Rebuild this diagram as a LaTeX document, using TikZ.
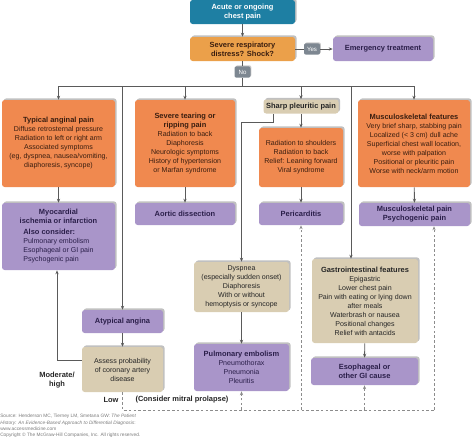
\documentclass[tikz,border=0pt]{standalone}
\usepackage{fontspec}
\setmainfont{Liberation Sans}
\usepackage{xcolor}
\usetikzlibrary{arrows.meta,shadows}

\definecolor{tealfill}{HTML}{1E7FA3}
\definecolor{amberfill}{HTML}{EBA04A}
\definecolor{orfill}{HTML}{F0894F}
\definecolor{pufill}{HTML}{A995C9}
\definecolor{tnfill}{HTML}{D9CDB2}
\definecolor{tagfill}{HTML}{7D8791}
\definecolor{lncol}{HTML}{5A5A5A}
\definecolor{dshcol}{HTML}{8C8C8C}
\definecolor{putext}{HTML}{2B1F4A}
\definecolor{ortext}{HTML}{3A1E10}
\definecolor{srccol}{HTML}{7A7A7A}

\newcommand{\rg}{\fontsize{5.3}{6.75}\selectfont}
\newcommand{\hd}{\fontsize{5.6}{6.75}\selectfont\bfseries}
\newcommand{\tg}{\fontsize{4.6}{5}\selectfont}
\newcommand{\srcfont}{\fontsize{3.6}{4.7}\selectfont}

\tikzset{
  box/.style={rounded corners=2pt,inner sep=0pt,align=center,font=\rg,
    drop shadow={shadow xshift=1.2pt,shadow yshift=1.2pt,fill=black!55,opacity=0.45}},
  tlbox/.style={box,fill=tealfill,text=white},
  ambox/.style={box,fill=amberfill,text=ortext},
  orbox/.style={box,fill=orfill,text=ortext},
  pubox/.style={box,fill=pufill,text=putext},
  tnbox/.style={box,fill=tnfill,text=black!85},
  tagbox/.style={rounded corners=1.5pt,fill=tagfill,text=white,font=\tg,inner sep=0pt,
    minimum width=12pt,minimum height=8.5pt,
    drop shadow={shadow xshift=0.7pt,shadow yshift=0.7pt,fill=black!50,opacity=0.4}},
  lbl/.style={font=\hd,text=black!85,inner sep=0pt,align=center},
  ln/.style={draw=lncol,line width=0.6pt},
  arr/.style={ln,-{Stealth[length=3pt,width=2.4pt]}},
  dsh/.style={draw=dshcol,line width=0.6pt,dash pattern=on 2pt off 1.6pt}
}

\begin{document}
\begin{tikzpicture}[x=0.75pt,y=0.75pt,yscale=-1,xscale=1]

\useasboundingbox (0,0) rectangle (474,440);

\node[tlbox,minimum width=78.75pt,minimum height=18pt] (top) at (242.5,12) {{\hd Acute or ongoing}\\{\hd chest pain}};

\node[ambox,minimum width=78.75pt,minimum height=18pt] (shock) at (242.5,49) {{\hd Severe respiratory}\\{\hd distress? Shock?}};

\node[pubox,minimum width=75pt,minimum height=18pt] (emerg) at (383,49) {{\hd Emergency treatment}};

\node[tagbox] (yes) at (312,49) {Yes};

\node[tagbox] (no) at (242.5,72) {No};

\node[orbox,minimum width=84.75pt,minimum height=65.25pt] (typ) at (58.5,143.5) {{\hd Typical anginal pain}\\Diffuse retrosternal pressure\\Radiation to left or right arm\\Associated symptoms\\(eg, dyspnea, nausea/vomiting,\\diaphoresis, syncope)};

\node[orbox,minimum width=75pt,minimum height=65.25pt] (tear) at (185,143.5) {{\hd Severe tearing or}\\{\hd ripping pain}\\Radiation to back\\Diaphoresis\\Neurologic symptoms\\History of hypertension\\or Marfan syndrome};

\node[tnbox,minimum width=56.25pt,minimum height=10.5pt] (pleu) at (301,106.5) {{\hd Sharp pleuritic pain}};

\node[orbox,minimum width=63pt,minimum height=44.25pt] (rad) at (301,157.5) {Radiation to shoulders\\Radiation to back\\Relief: Leaning forward\\Viral syndrome};

\node[orbox,minimum width=84pt,minimum height=65.25pt] (mskf) at (414,143.5) {{\hd Musculoskeletal features}\\Very brief sharp, stabbing pain\\Localized (< 3 cm) dull ache\\Superficial chest wall location,\\worse with palpation\\Positional or pleuritic pain\\Worse with neck/arm motion};

\node[pubox,minimum width=84.75pt,minimum height=50.25pt] (myo) at (58.5,236.5) {{\hd Myocardial}\\{\hd ischemia or infarction}\\[2pt]\begin{tabular}{@{}l@{}}{\hd Also consider:}\\Pulmonary embolism\\Esophageal or GI pain\\Psychogenic pain\end{tabular}};

\node[pubox,minimum width=75pt,minimum height=16.5pt] (aort) at (185,214) {{\hd Aortic dissection}};

\node[pubox,minimum width=63pt,minimum height=16.5pt] (peri) at (301,214) {{\hd Pericarditis}};

\node[pubox,minimum width=83.25pt,minimum height=17.25pt] (mskp) at (414.5,214.5) {{\hd Musculoskeletal pain}\\{\hd Psychogenic pain}};

\node[tnbox,minimum width=71.25pt,minimum height=37.5pt] (dysp) at (241.5,287) {Dyspnea\\(especially sudden onset)\\Diaphoresis\\With or without\\hemoptysis or syncope};

\node[pubox,minimum width=71.25pt,minimum height=35.25pt] (pe) at (241.5,367.5) {{\hd Pulmonary embolism}\\Pneumothorax\\Pneumonia\\Pleuritis};

\node[tnbox,minimum width=79.5pt,minimum height=63pt] (gi) at (365,301) {{\hd Gastrointestinal features}\\Epigastric\\Lower chest pain\\Pain with eating or lying down\\after meals\\Waterbrash or nausea\\Positional changes\\Relief with antacids};

\node[pubox,minimum width=80.25pt,minimum height=20.25pt] (eso) at (364.5,371.5) {{\hd Esophageal or}\\{\hd other GI cause}};

\node[pubox,minimum width=60.75pt,minimum height=17.25pt] (atyp) at (122.5,321.5) {{\hd Atypical angina}};

\node[tnbox,minimum width=60.75pt,minimum height=33.75pt] (assess) at (122.5,369.5) {Assess probability\\of coronary artery\\disease};

\node[lbl] (modhigh) at (57,380) {Moderate/\\high};

\node[lbl] (lowlbl) at (111,400) {Low};

\node[lbl] (mitral) at (182,400) {(Consider mitral prolapse)};

\node[anchor=north west,inner sep=0pt,align=left,font=\srcfont,text=srccol] (source) at (0,414) {Source: Henderson MC, Tierney LM, Smetana GW: \textit{The Patient}\\\textit{History: An Evidence-Based Approach to Differential Diagnosis}:\\www.accessmedicine.com\\Copyright \textcopyright{} The McGraw-Hill Companies, Inc. All rights reserved.};

\coordinate (bus) at (242.5,86);
\coordinate (gibus) at (351,86);
\coordinate (pbend) at (273,122);
\coordinate (mh) at (57,360);
\coordinate (lowc) at (122.5,410);
\coordinate (mskc) at (434,410);

\draw[arr] (top) -- (shock);
\draw[ln] (shock) -- (yes);
\draw[arr] (yes) -- (emerg);
\draw[ln] (shock) -- (no);
\draw[ln] (no) -- (bus);
\draw[ln] (typ.north |- bus) -- (mskf.north |- bus);

\draw[arr] (typ.north |- bus) -- (typ);
\draw[arr] (atyp.north |- bus) -- (atyp);
\draw[arr] (tear.north |- bus) -- (tear);
\draw[arr] (pleu.north |- bus) -- (pleu);
\draw[arr] (gibus) -- (gibus |- gi.north);
\draw[arr] (mskf.north |- bus) -- (mskf);

\draw[arr] (pleu) -- (rad);
\draw[arr] (pleu.south -| pbend) -- (pbend) -| (dysp);

\draw[arr] (typ) -- (myo);
\draw[arr] (tear) -- (aort);
\draw[arr] (rad) -- (peri);
\draw[arr] (mskf) -- (mskp);
\draw[arr] (dysp) -- (pe);
\draw[arr] (gi) -- (eso);
\draw[arr] (atyp) -- (assess);

\draw[arr] (assess.west |- mh) -- (mh) -- (mh |- myo.south);

\draw[dsh] (assess.south) -- (lowc) -- (mskc);
\draw[dsh,-{Stealth[length=3pt,width=2.4pt]}] (lowc -| pe) -- (pe.south);
\draw[dsh,-{Stealth[length=3pt,width=2.4pt]}] (lowc -| peri) -- (peri.south);
\draw[dsh,-{Stealth[length=3pt,width=2.4pt]}] (lowc -| eso) -- (eso.south);
\draw[dsh,-{Stealth[length=3pt,width=2.4pt]}] (mskc) -- (mskc |- mskp.south);

\end{tikzpicture}
\end{document}
